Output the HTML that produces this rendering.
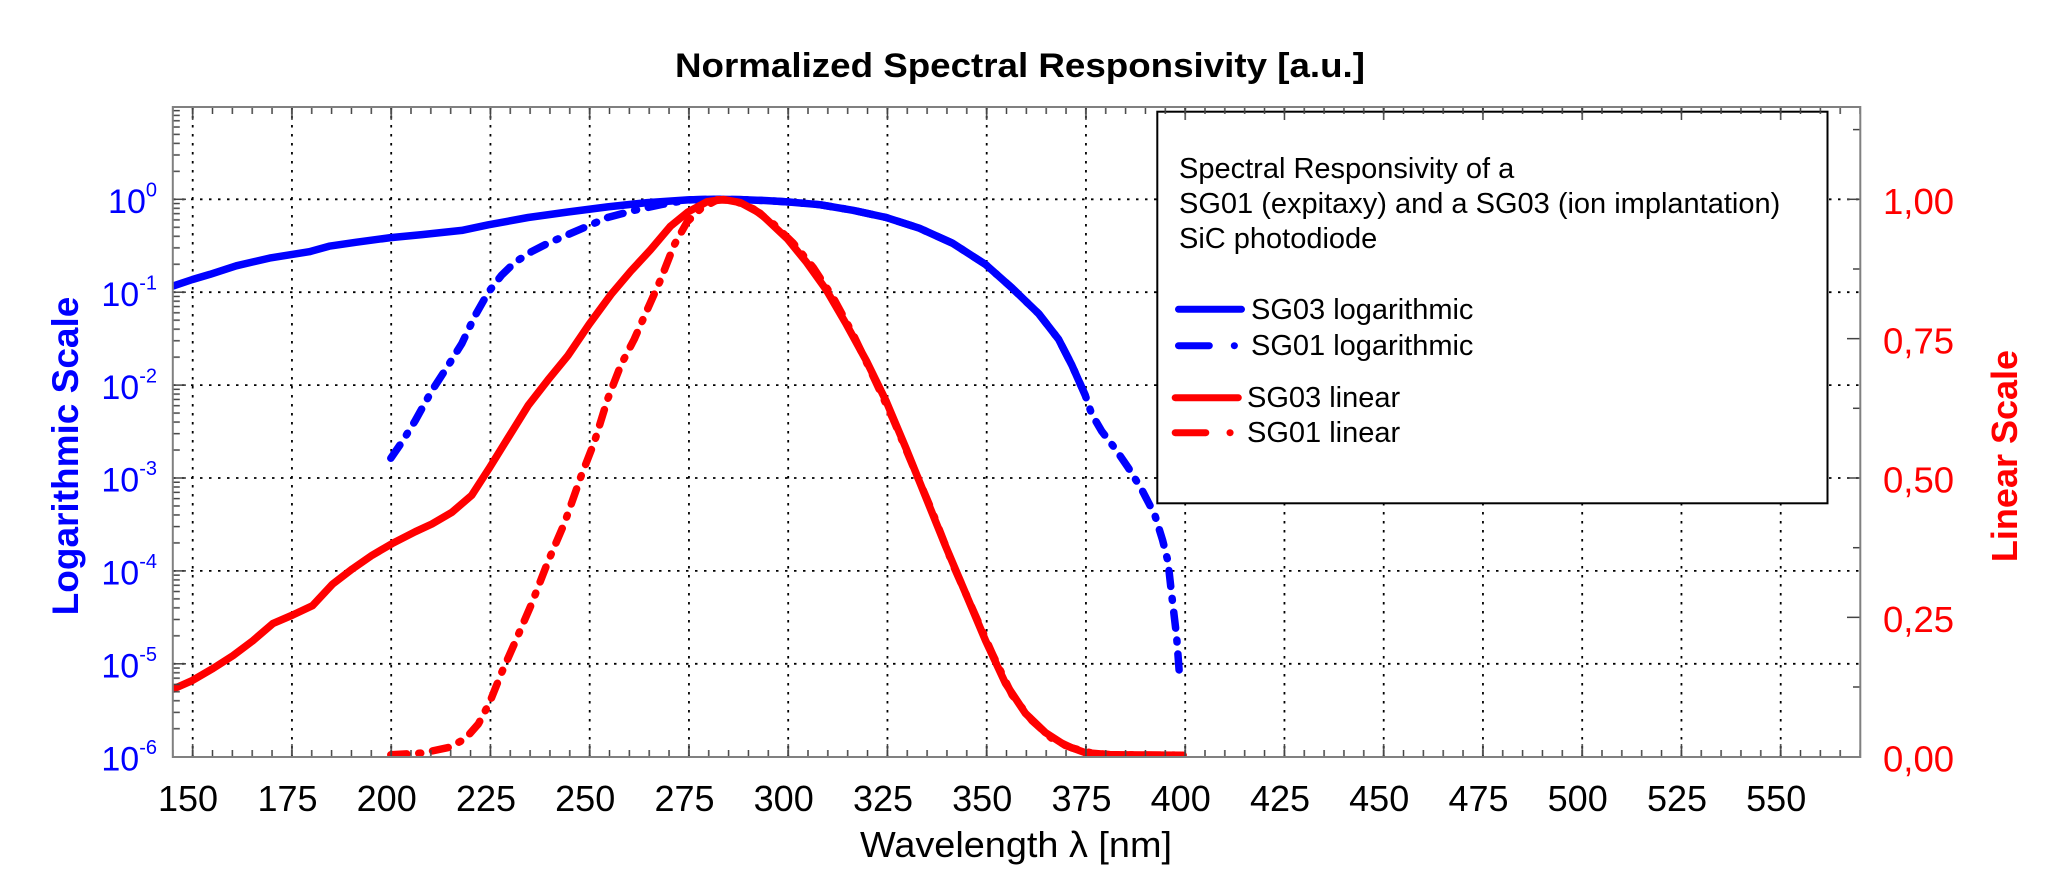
<!DOCTYPE html>
<html>
<head>
<meta charset="utf-8">
<style>
html,body{margin:0;padding:0;background:#fff;}
svg{display:block;}
text{font-family:"Liberation Sans",Arial,sans-serif;}
</style>
</head>
<body>
<svg width="2048" height="881" viewBox="0 0 2048 881" xmlns="http://www.w3.org/2000/svg">
<defs>
  <clipPath id="plot"><rect x="172.8" y="107" width="1687.5" height="650"/></clipPath>
  <pattern id="txmin" patternUnits="userSpaceOnUse" x="171.8" y="0" width="19.85" height="881">
    <line x1="1" y1="0" x2="1" y2="881" stroke="#444" stroke-width="1.5"/>
  </pattern>
  <pattern id="txmaj" patternUnits="userSpaceOnUse" x="191.7" y="0" width="99.25" height="881">
    <line x1="1" y1="0" x2="1" y2="881" stroke="#444" stroke-width="1.5"/>
  </pattern>
  <pattern id="tylog" patternUnits="userSpaceOnUse" x="0" y="106.4" width="2048" height="92.9">
    <g stroke="#444" stroke-width="1.5">
      <line x1="0" y1="4.25" x2="2048" y2="4.25"/>
      <line x1="0" y1="9.0" x2="2048" y2="9.0"/>
      <line x1="0" y1="14.4" x2="2048" y2="14.4"/>
      <line x1="0" y1="20.6" x2="2048" y2="20.6"/>
      <line x1="0" y1="28.0" x2="2048" y2="28.0"/>
      <line x1="0" y1="37.0" x2="2048" y2="37.0"/>
      <line x1="0" y1="48.6" x2="2048" y2="48.6"/>
      <line x1="0" y1="64.9" x2="2048" y2="64.9"/>
    </g>
  </pattern>
</defs>

<rect x="0" y="0" width="2048" height="881" fill="#fff"/>

<!-- Title -->
<text x="675" y="77" font-size="34" font-weight="bold" fill="#000" textLength="690" lengthAdjust="spacingAndGlyphs">Normalized Spectral Responsivity [a.u.]</text>

<!-- Grid -->
<g stroke="#000" stroke-width="1.8" stroke-dasharray="2.5 6.5" fill="none">
  <line x1="192.7" y1="107" x2="192.7" y2="757"/>
  <line x1="291.95" y1="107" x2="291.95" y2="757"/>
  <line x1="391.2" y1="107" x2="391.2" y2="757"/>
  <line x1="490.45" y1="107" x2="490.45" y2="757"/>
  <line x1="589.7" y1="107" x2="589.7" y2="757"/>
  <line x1="688.95" y1="107" x2="688.95" y2="757"/>
  <line x1="788.2" y1="107" x2="788.2" y2="757"/>
  <line x1="887.45" y1="107" x2="887.45" y2="757"/>
  <line x1="986.7" y1="107" x2="986.7" y2="757"/>
  <line x1="1085.95" y1="107" x2="1085.95" y2="757"/>
  <line x1="1185.2" y1="107" x2="1185.2" y2="757"/>
  <line x1="1284.45" y1="107" x2="1284.45" y2="757"/>
  <line x1="1383.7" y1="107" x2="1383.7" y2="757"/>
  <line x1="1482.95" y1="107" x2="1482.95" y2="757"/>
  <line x1="1582.2" y1="107" x2="1582.2" y2="757"/>
  <line x1="1681.45" y1="107" x2="1681.45" y2="757"/>
  <line x1="1780.7" y1="107" x2="1780.7" y2="757"/>
  <line x1="173" y1="199.3" x2="1860" y2="199.3"/>
  <line x1="173" y1="292.2" x2="1860" y2="292.2"/>
  <line x1="173" y1="385.1" x2="1860" y2="385.1"/>
  <line x1="173" y1="478.0" x2="1860" y2="478.0"/>
  <line x1="173" y1="570.9" x2="1860" y2="570.9"/>
  <line x1="173" y1="663.8" x2="1860" y2="663.8"/>
</g>

<!-- Curves -->
<g clip-path="url(#plot)" fill="none" stroke-width="7.5" stroke-linejoin="round" stroke-linecap="round">
  <path stroke="#0000ff" d="M173.3,285.9 L192.5,279.5 L209.8,274.4 L236.3,265.8 L269.5,258.1 L309.3,251.7 L329.1,246.2 L355.7,242.3 L390.8,237.6 L422.0,234.6 L461.8,230.4 L488.3,224.8 L528.1,217.5 L567.9,212.0 L607.6,206.9 L647.4,202.6 L687.9,199.9 L713.7,199.2 L740.3,199.6 L766.8,200.6 L787.4,201.9 L819.8,204.7 L853.0,210.3 L886.2,217.5 L919.3,228.2 L952.5,243.2 L985.6,264.5 L1012.1,288.1 L1038.7,313.7 L1058.6,339.3 L1071.8,365.0 L1085.1,394.9"/>
  <path stroke="#0000ff" stroke-dasharray="16 12 2 12" d="M390.8,458.2 L402.1,441.9 L415.3,420.5 L431.9,390.6 L448.5,365.0 L461.8,343.6 L475.0,315.8 L488.3,292.3 L501.6,275.2 L514.8,262.4 L531.4,251.7 L548.0,243.2 L567.9,234.6 L587.8,226.1 L607.6,217.5 L634.2,210.3 L660.7,204.7 L687.9,199.9 L713.7,199.2 L740.3,199.6 L766.8,200.6 L787.4,201.9 L819.8,204.7 L853.0,210.3 L886.2,217.5 L919.3,228.2 L952.5,243.2 L985.6,264.5 L1012.1,288.1 L1038.7,313.7 L1058.6,339.3 L1071.8,365.0 L1085.1,394.9 L1091.7,414.1 L1101.7,431.2 L1114.9,448.3 L1128.2,467.6 L1141.4,488.9 L1154.7,514.6 L1162.6,540.2 L1168.0,561.6 L1171.3,591.5 L1176.6,636.4 L1179.3,672.7"/>
  <path stroke="#ff0000" d="M173.3,689.0 L192.5,680.4 L213.1,668.4 L233.0,655.6 L252.9,640.7 L272.8,623.6 L292.7,615.0 L312.6,605.6 L332.5,584.2 L352.4,568.9 L372.2,555.2 L392.1,543.6 L415.3,531.7 L431.9,524.0 L451.8,512.4 L471.7,495.3 L489.6,467.6 L508.2,437.6 L528.1,405.6 L548.0,379.9 L567.9,355.6 L589.1,324.4 L611.0,294.5 L630.9,271.0 L650.7,249.6 L670.6,226.1 L687.9,212.0 L707.1,201.7 L723.7,199.5 L740.3,202.6 L760.2,213.3 L787.4,238.9 L806.6,262.4 L826.5,290.2 L846.4,324.4 L866.3,360.7 L886.2,401.3 L906.0,448.3 L925.9,497.5 L945.8,546.6 L965.7,593.6 L985.6,640.7 L1005.5,683.4 L1025.4,713.3 L1045.3,732.5 L1065.2,745.4 L1085.1,752.6 L1111.6,754.8 L1183.2,755.2"/>
  <path stroke="#ff0000" stroke-dasharray="16 12 2 12" d="M390.8,754.8 L422.0,753.1 L448.5,747.5 L465.1,739.0 L478.3,724.0 L489.6,702.6 L501.6,672.7 L514.8,642.8 L531.4,604.3 L548.0,561.6 L564.5,523.1 L581.1,476.1 L594.4,441.9 L607.6,399.2 L620.9,365.0 L634.2,339.3 L647.4,309.4 L660.7,279.5 L674.0,245.3 L687.2,221.8 L700.5,209.0 L717.1,199.8 L733.6,200.4 L753.5,209.0 L773.4,223.9 L793.3,243.2 L813.2,267.5 L833.1,297.5 L853.0,334.2 L872.9,375.7 L892.8,418.4 L912.7,465.4 L932.6,512.4 L952.5,563.7 L972.4,608.6 L992.2,653.5 L1012.1,694.9 L1032.0,720.6 L1051.9,738.5 L1071.8,747.9 L1091.7,753.1 L1111.6,754.8 L1183.2,755.2"/>
</g>

<!-- Legend -->
<rect x="1157.3" y="111.7" width="670.2" height="391.6" fill="#fff" stroke="#000" stroke-width="2"/>
<g font-size="29" fill="#000">
  <text x="1179" y="178">Spectral Responsivity of a</text>
  <text x="1179" y="213">SG01 (expitaxy) and a SG03 (ion implantation)</text>
  <text x="1179" y="248">SiC photodiode</text>
  <text x="1251" y="319">SG03 logarithmic</text>
  <text x="1251" y="355">SG01 logarithmic</text>
  <text x="1247" y="407">SG03 linear</text>
  <text x="1247" y="442">SG01 linear</text>
</g>
<g fill="none" stroke-width="7" stroke-linecap="round">
  <line x1="1178.5" y1="309.3" x2="1241.5" y2="309.3" stroke="#0000ff"/>
  <line x1="1178.5" y1="345.7" x2="1209.3" y2="345.7" stroke="#0000ff"/>
  <line x1="1234.3" y1="345.7" x2="1234.4" y2="345.7" stroke="#0000ff"/>
  <line x1="1175.2" y1="397.7" x2="1238.3" y2="397.7" stroke="#ff0000"/>
  <line x1="1175.2" y1="432.7" x2="1205.8" y2="432.7" stroke="#ff0000"/>
  <line x1="1230" y1="432.7" x2="1230.1" y2="432.7" stroke="#ff0000"/>
</g>

<!-- Ticks -->
<rect x="172.8" y="750" width="1687.5" height="7" fill="url(#txmin)"/>
<rect x="172.8" y="107" width="1687.5" height="7" fill="url(#txmin)"/>
<rect x="180" y="744" width="1670" height="13" fill="url(#txmaj)"/>
<rect x="180" y="107" width="1670" height="13" fill="url(#txmaj)"/>
<rect x="172.8" y="107" width="7" height="650" fill="url(#tylog)"/>
<g stroke="#444" stroke-width="1.5">
  <line x1="173" y1="199.3" x2="186" y2="199.3"/>
  <line x1="173" y1="292.2" x2="186" y2="292.2"/>
  <line x1="173" y1="385.1" x2="186" y2="385.1"/>
  <line x1="173" y1="478.0" x2="186" y2="478.0"/>
  <line x1="173" y1="570.9" x2="186" y2="570.9"/>
  <line x1="173" y1="663.8" x2="186" y2="663.8"/>
  <line x1="1853" y1="687.0" x2="1860" y2="687.0"/>
  <line x1="1847" y1="617.35" x2="1860" y2="617.35"/>
  <line x1="1853" y1="547.7" x2="1860" y2="547.7"/>
  <line x1="1847" y1="478.0" x2="1860" y2="478.0"/>
  <line x1="1853" y1="408.3" x2="1860" y2="408.3"/>
  <line x1="1847" y1="338.65" x2="1860" y2="338.65"/>
  <line x1="1853" y1="269.0" x2="1860" y2="269.0"/>
  <line x1="1847" y1="199.3" x2="1860" y2="199.3"/>
  <line x1="1853" y1="129.6" x2="1860" y2="129.6"/>
</g>

<!-- Frame -->
<rect x="172.8" y="107" width="1687.5" height="650" fill="none" stroke="#808080" stroke-width="2"/>

<!-- Left axis labels -->
<g font-size="34" fill="#0000ff" text-anchor="end">
  <text x="157" y="213">10<tspan dy="-16.5" font-size="20">0</tspan></text>
  <text x="157" y="305.9">10<tspan dy="-16.5" font-size="20">-1</tspan></text>
  <text x="157" y="398.8">10<tspan dy="-16.5" font-size="20">-2</tspan></text>
  <text x="157" y="491.7">10<tspan dy="-16.5" font-size="20">-3</tspan></text>
  <text x="157" y="584.6">10<tspan dy="-16.5" font-size="20">-4</tspan></text>
  <text x="157" y="677.5">10<tspan dy="-16.5" font-size="20">-5</tspan></text>
  <text x="157" y="770.4">10<tspan dy="-16.5" font-size="20">-6</tspan></text>
</g>

<!-- Right axis labels -->
<g font-size="36.5" fill="#ff0000">
  <text x="1883" y="214">1,00</text>
  <text x="1883" y="353.3">0,75</text>
  <text x="1883" y="492.7">0,50</text>
  <text x="1883" y="632">0,25</text>
  <text x="1883" y="771.4">0,00</text>
</g>

<!-- X axis labels -->
<g font-size="36" fill="#000" text-anchor="middle">
  <text x="188" y="811">150</text>
  <text x="287.5" y="811">175</text>
  <text x="386.7" y="811">200</text>
  <text x="486" y="811">225</text>
  <text x="585.2" y="811">250</text>
  <text x="684.5" y="811">275</text>
  <text x="783.7" y="811">300</text>
  <text x="883" y="811">325</text>
  <text x="982.2" y="811">350</text>
  <text x="1081.5" y="811">375</text>
  <text x="1180.7" y="811">400</text>
  <text x="1280" y="811">425</text>
  <text x="1379.2" y="811">450</text>
  <text x="1478.5" y="811">475</text>
  <text x="1577.7" y="811">500</text>
  <text x="1677" y="811">525</text>
  <text x="1776.2" y="811">550</text>
</g>

<!-- Axis titles -->
<text x="860" y="857" font-size="36" fill="#000" textLength="312" lengthAdjust="spacingAndGlyphs">Wavelength λ [nm]</text>
<text transform="translate(78,456) rotate(-90)" font-size="37" font-weight="bold" fill="#0000ff" text-anchor="middle">Logarithmic Scale</text>
<text transform="translate(2017,456) rotate(-90)" font-size="36" font-weight="bold" fill="#ff0000" text-anchor="middle">Linear Scale</text>
</svg>
</body>
</html>
